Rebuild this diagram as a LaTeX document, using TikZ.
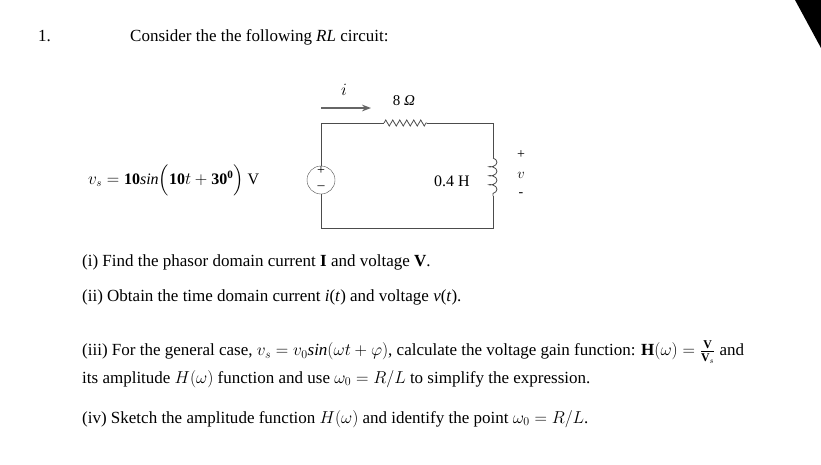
\documentclass[tikz,border=0pt]{standalone}
\usepackage{fontspec}
\usepackage{amsmath}
\setmainfont{Liberation Serif}
\usetikzlibrary{decorations.pathmorphing,arrows.meta}
\begin{document}
\begin{tikzpicture}[x=1pt,y=-1pt,
  txt/.style={anchor=west,inner sep=0,font=\fontsize{17}{20}\selectfont},
  sm/.style={inner sep=0,font=\fontsize{14}{16}\selectfont},
  wire/.style={draw=black!70,line width=0.8pt}]
\useasboundingbox (0,0) rectangle (821,464);
\fill[black] (795,0) -- (821,0) -- (821,48) -- cycle;
\node[txt] (n1) at (38,36) {1.};
\node[txt] (c) at (130,37) {Consider the the following \textit{RL} circuit:};
% circuit
\coordinate (tl) at (321,123);
\coordinate (tr) at (493,123);
\coordinate (br) at (493,228);
\coordinate (bl) at (321,228);
\coordinate (r1) at (384,123);
\coordinate (r2) at (427,123);
\coordinate (l1) at (493,158);
\coordinate (l2) at (493,196);
\node[circle,draw=black!70,minimum size=28pt,inner sep=0] (src) at (321,180) {};
\node[sm] (sp) at (321,171) {+};
\node[sm] (smi) at (321,188) {--};
\draw[wire] (src.north) -- (tl) -- (r1);
\draw[wire,decorate,decoration={zigzag,segment length=7pt,amplitude=3pt}] (r1) -- (r2);
\draw[wire] (r2) -- (tr) -- (l1);
\draw[wire,decorate,decoration={coil,aspect=0.5,segment length=9pt,amplitude=4pt}] (l1) -- (l2);
\draw[wire] (l2) -- (br) -- (bl) -- (src.south);
\coordinate (a1) at (321,108);
\coordinate (a2) at (371,108);
\draw[black!60,line width=2.2pt,-{Stealth[length=9pt]}] (a1) -- (a2);
\node[inner sep=0,font=\fontsize{17}{18}\selectfont] (i) at (344,90) {$i$};
\node[inner sep=0,font=\fontsize{15}{18}\selectfont] (R) at (404,101) {8 \textit{Ω}};
\node[inner sep=0,font=\fontsize{16}{18}\selectfont] (L) at (452,181) {0.4 H};
\node[sm] (vp) at (521,155) {+};
\node[sm] (v) at (521,175) {$v$};
\node[sm] (vm) at (521,195) {-};
\node[anchor=west,inner sep=0,font=\fontsize{16}{18}\selectfont] (vs) at (88,180) {$v_s = \mathbf{10}\mathit{sin}\Big(\mathbf{10}t + \mathbf{30^0}\Big)$ V};
% questions
\node[txt] (q1) at (82,262) {(i) Find the phasor domain current \textbf{I} and voltage \textbf{V}.};
\node[txt] (q2) at (82,297) {(ii) Obtain the time domain current \textit{i}(\textit{t}) and voltage \textit{v}(\textit{t}).};
\node[txt] (q3) at (82,352) {(iii) For the general case, $v_s=v_0\mathit{sin}(\omega t+\varphi)$, calculate the voltage gain function: $\mathbf{H}(\omega)=\frac{\mathbf{V}}{\mathbf{V}_s}$ and};
\node[txt] (q3b) at (82,379) {its amplitude $H(\omega)$ function and use $\omega_0 = R/L$ to simplify the expression.};
\node[txt] (q4) at (82,419) {(iv) Sketch the amplitude function $H(\omega)$ and identify the point $\omega_0 = R/L$.};
\end{tikzpicture}
\end{document}
